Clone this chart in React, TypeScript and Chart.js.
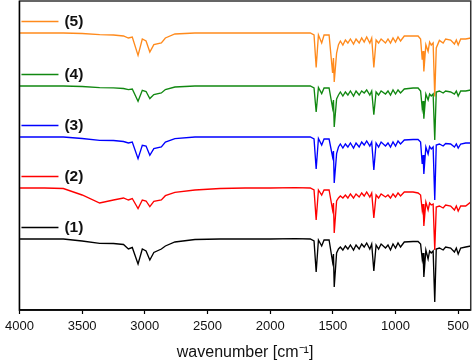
import React, { useEffect, useRef } from "react";
import { Chart, registerables } from "chart.js";

Chart.register(...registerables);

const wavenumbers = [4000,3800,3650,3500,3360,3250,3170,3131,3100,3054,3020,2990,2960,2928,2868,2836,2760,2600,2400,2200,2000,1800,1680,1650,1633,1615,1589,1570,1530,1502,1495,1489,1470,1455,1440,1420,1400,1380,1360,1335,1315,1290,1270,1250,1230,1205,1190,1173,1155,1135,1115,1080,1060,1040,1020,1000,980,960,930,860,820,800,787,780,774,758,740,728,715,700,687,675,650,620,600,560,530,515,500,480,440,400];

const series1 = [0,0,0,-2,-4.3,-4.5,-5.5,-10,-8.5,-25,
  -10,-12,-21,-13.5,-10,-7,-3,-0.5,0,0,
  0,0.3,0,-2,-33,-1,-7,-1,-1,-23,
  -15,-48,-14,-10,-8,-11,-7,-10,-6,-11,
  -6,-10,-5,-8,-4,-10,-5,-32,-6,-10,
  -5,-9,-6,-11,-5,-9,-4,-8,-3,-2.5,
  -2.5,-5,-20,-14,-38,-11,-20,-12,-14,-12,
  -63,-10,-9,-11,-8,-9,-13,-9,-15,-9,-8,-7];

const series2 = [0,0,-0.5,-7,-15,-12,-10,-12,-10.5,-20.5,
  -12,-13,-18.7,-13.4,-12,-7.7,-4.4,-2,-0.5,0,
  0,0.3,0,-2,-32,-2,-7,-2,-2,-22,
  -15,-45,-13,-10,-8,-10,-7,-10,-6,-10,
  -6,-9,-5,-8,-4,-9,-5,-30,-7,-10,
  -6,-9,-7,-10,-6,-9,-5,-8,-4,-4,
  -5,-7,-22,-16,-38,-14,-22,-15,-17,-16,
  -62,-19,-18,-20,-17,-18,-22,-18,-23,-18,-18,-14];

const series3 = [0,0,0,-1.5,-3.3,-3.5,-4.5,-6,-5,-21.6,
  -8.3,-9,-18.3,-11.6,-10,-5,-1.6,0,0,0,
  0,0,0,-2,-32,-1.5,-8,-2,-2,-20,
  -14,-46,-16.6,-10,-7,-11,-7,-10,-6,-11,
  -6,-10,-5,-8,-4,-9,-5,-33,-6,-10,
  -5,-9,-6,-10,-5,-9,-4,-7,-3,-2.5,
  -2.5,-5,-27,-18,-37,-10,-17,-9.5,-12,-10,
  -63,-8,-7,-9,-6.5,-7,-10,-7,-11,-7,-6,-6];

const series4 = [0,0,0,-0.5,-1.6,-1.8,-2.5,-3.6,-3,-15.3,
  -4.3,-5.5,-12.6,-8.6,-7,-3.6,-1,0,0,0,
  0,0,0,-2,-26,-1.5,-7.6,-2,-2,-22,
  -14,-41,-13,-9,-6,-10,-6,-9,-5,-10,
  -5,-9,-5,-7,-4,-9,-5,-28.6,-6,-9,
  -5,-8,-5,-9,-4,-8,-4,-7,-3,-2,
  -2,-5,-22,-15,-32.6,-8,-14,-8,-10,-8,
  -54,-6,-5,-7,-5,-6,-8,-5,-10,-5,-5,-4];

const series5 = [0,0,0,-0.5,-1.7,-2,-3,-5,-4,-22.4,
  -6,-8,-19,-11.7,-10,-5,-1,0,0,0,
  0,0,0,-2,-34.4,-2,-10,-2,-2,-40,
  -25,-49,-20,-11.7,-8,-12,-7,-10,-6,-11,
  -6,-10,-5,-9,-4,-10,-5,-34.4,-7,-10,
  -6,-10,-6,-10,-5,-9,-4,-8,-3,-3,
  -3,-6,-26.7,-18,-38.4,-11.7,-18.4,-9,-12,-10,
  -63.4,-15,-7.4,-10,-6,-7,-11,-7,-12,-6,-6,-5];

const seriesLabels = ["(1)", "(2)", "(3)", "(4)", "(5)"];
const seriesColors = ["#000000", "#ff0000", "#0000ff", "#118811", "#ff8a1c"];
const seriesOffsets = [0, 51, 102, 153, 206];
const allSeries = [series1, series2, series3, series4, series5];
const xTicks = [4000, 3500, 3000, 2500, 2000, 1500, 1000, 500];

const legendPlugin = {
  id: "customLegend",
  afterDatasetsDraw(chart: any) {
    const { ctx, chartArea, scales } = chart;
    ctx.save();
    ctx.strokeStyle = "#333";
    ctx.lineWidth = 1.5;
    ctx.strokeRect(chartArea.left, chartArea.top, chartArea.right - chartArea.left, chartArea.bottom - chartArea.top);
    ctx.strokeStyle = "#000";
    ctx.lineWidth = 1.3;
    ctx.beginPath();
    ctx.moveTo(chartArea.left, chartArea.top);
    ctx.lineTo(chartArea.left, chartArea.bottom);
    ctx.lineTo(chartArea.right, chartArea.bottom);
    ctx.stroke();
    seriesLabels.forEach((lab, i) => {
      const y = scales.y.getPixelForValue(seriesOffsets[i]) - 11.5;
      ctx.strokeStyle = seriesColors[i];
      ctx.lineWidth = 1.4;
      ctx.beginPath();
      ctx.moveTo(chartArea.left + 2, y);
      ctx.lineTo(chartArea.left + 39, y);
      ctx.stroke();
      ctx.fillStyle = "#111";
      ctx.font = "bold 15.5px 'Liberation Sans', Arial, sans-serif";
      ctx.textBaseline = "middle";
      ctx.textAlign = "left";
      ctx.fillText(lab, chartArea.left + 45, y + 0.5);
    });
    ctx.restore();
  },
};

export default function App() {
  const ref = useRef<HTMLCanvasElement | null>(null);
  useEffect(() => {
    if (!ref.current) return;
    const datasets = allSeries.map((s, i) => ({
      label: seriesLabels[i],
      data: wavenumbers.map((w, j) => ({ x: w, y: s[j] + seriesOffsets[i] })),
      borderColor: seriesColors[i],
      borderWidth: 1.35,
      pointRadius: 0,
      tension: 0,
      fill: false,
    }));
    const chart = new Chart(ref.current, {
      type: "line",
      data: { datasets },
      options: {
        animation: false,
        responsive: false,
        maintainAspectRatio: false,
        layout: { padding: { left: 16, right: 2, top: 1, bottom: 0 } },
        plugins: { legend: { display: false }, tooltip: { enabled: false } },
        scales: {
          x: {
            type: "linear",
            reverse: true,
            min: 400,
            max: 4000,
            afterBuildTicks: (s: any) => {
              s.ticks = xTicks.map((v) => ({ value: v }));
            },
            afterFit: (s: any) => {
              s.height = 52;
            },
            grid: { drawOnChartArea: false, drawTicks: true, tickLength: 4, tickColor: "#000", tickWidth: 1.2 },
            border: { display: true, color: "#000", width: 1.3 },
            ticks: {
              color: "#111",
              font: { size: 13, family: "'Liberation Sans', Arial, sans-serif" },
              padding: 5,
              maxRotation: 0,
              autoSkip: false,
              callback: (v: any) => String(v),
            },
            title: {
              display: true,
              text: "wavenumber [cm\u207B\u00B9]",
              color: "#111",
              font: { size: 16, family: "'Liberation Sans', Arial, sans-serif" },
              padding: { top: 0, bottom: 0 },
            },
          },
          y: { display: false, min: -71, max: 238 },
        },
      },
      plugins: [legendPlugin],
    });
    return () => chart.destroy();
  }, []);
  return (
    <div style={{ position: "fixed", left: 0, top: 0, width: 474, height: 362, background: "#fff" }}>
      <canvas ref={ref} width={474} height={362} />
    </div>
  );
}
